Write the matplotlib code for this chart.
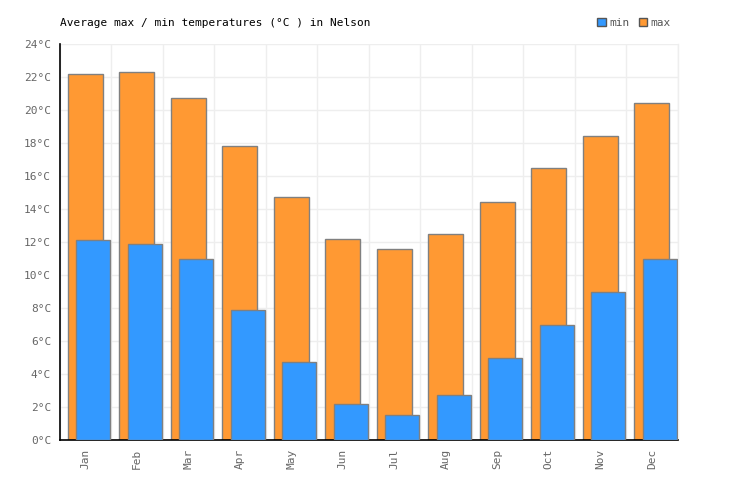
import numpy as np
import matplotlib
matplotlib.use("Agg")
import matplotlib.pyplot as plt
from matplotlib.patches import Patch

months = ["Jan", "Feb", "Mar", "Apr", "May", "Jun", "Jul", "Aug", "Sep", "Oct", "Nov", "Dec"]
temp_max = [22.2, 22.3, 20.7, 17.8, 14.7, 12.2, 11.6, 12.5, 14.4, 16.5, 18.4, 20.4]
temp_min = [12.1, 11.9, 11.0, 7.9, 4.7, 2.2, 1.5, 2.7, 5.0, 7.0, 9.0, 11.0]
y_ticks = list(range(0, 25, 2))

plt.rcParams["font.family"] = "DejaVu Sans Mono"

fig = plt.figure(figsize=(7.36, 5.0), dpi=100)
ax = fig.add_axes([59.5 / 736, 60 / 500, 618 / 736, 396 / 500])

x = np.arange(len(months))
edge = "#808080"
ax.bar(x, temp_max, width=0.67, color="#ff9933", edgecolor=edge, linewidth=1, zorder=2)
ax.bar(x + 0.155, temp_min, width=0.66, color="#3399ff", edgecolor=edge, linewidth=1, zorder=3)

ax.set_xlim(-0.5, 11.5)
ax.set_ylim(0, 24)
ax.set_yticks(y_ticks)
ax.set_yticklabels([f"{v}°C" for v in y_ticks], color="#666666", fontsize=8)
ax.set_xticks(x)
ax.set_xticklabels(months, rotation=90, color="#666666", fontsize=8)
ax.set_xticks(np.arange(-0.5, 12, 1), minor=True)
ax.tick_params(axis="both", which="both", length=0)
ax.tick_params(axis="x", pad=6)
ax.tick_params(axis="y", pad=6)

ax.grid(True, axis="y", color="#eeeeee", linewidth=1, zorder=0)
ax.grid(True, axis="x", which="minor", color="#eeeeee", linewidth=1, zorder=0)
ax.grid(False, axis="x", which="major")
ax.axvline(11.5, color="#eeeeee", linewidth=1, zorder=0, clip_on=False)
ax.set_axisbelow(True)

for s in ["top", "right"]:
    ax.spines[s].set_visible(False)
ax.spines["left"].set_color("black")
ax.spines["bottom"].set_color("black")
ax.spines["left"].set_linewidth(1.2)
ax.spines["bottom"].set_linewidth(1.2)

fig.text(60 / 736, 1 - 23 / 500, "Average max / min temperatures (°C ) in Nelson",
         fontsize=8, color="black", va="center", ha="left")

handles = [Patch(facecolor="#3399ff", edgecolor="#555555"),
           Patch(facecolor="#ff9933", edgecolor="#555555")]
fig.legend(handles, ["min", "max"], loc="center right", bbox_to_anchor=(681 / 736, 1 - 23 / 500),
           ncol=2, frameon=False, fontsize=8, handlelength=0.8, handleheight=0.8,
           handletextpad=0.3, columnspacing=0.8, labelcolor="#555555")

fig.savefig("out.png", dpi=100)
